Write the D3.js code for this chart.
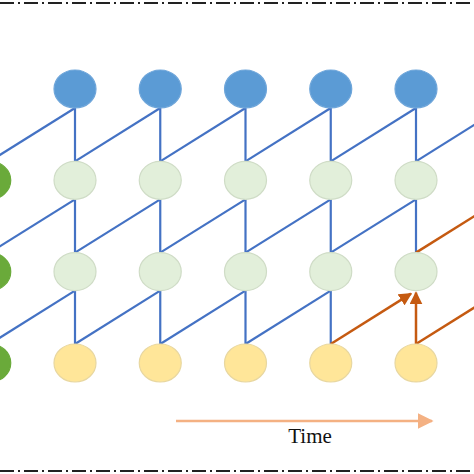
<!DOCTYPE html>
<html><head><meta charset="utf-8">
<script src="https://cdn.jsdelivr.net/npm/d3@7"></script>
<style>body{margin:0;background:#fff}svg{display:block}</style>
</head><body>
<script>
const columns = [-1, 0, 1, 2, 3, 4, 5];      // time steps (−1 and 5 partially off-screen)
const rows = [0, 1, 2, 3];                   // 0 = output, 1-2 = hidden, 3 = input
const rowNodeColumns = [[0,1,2,3,4],[ -1,0,1,2,3,4],[-1,0,1,2,3,4],[-1,0,1,2,3,4]];
const orangeVert = [[4,3]];                 // [col, lower row] vertical orange arrows
const orangeDiag = [[3,3,true],[4,3,false],[4,2,false]]; // [col, lower row, arrowhead]
const timeLabel = "Time";

const W=474,H=474;
const svg=d3.select("body").append("svg").attr("width",W).attr("height",H);
const x=d3.scaleLinear().domain([0,4]).range([75,416]);
const y=d3.scaleLinear().domain([0,3]).range([89,363]);
const rx=21, ry=19;
const defs=svg.append("defs");
function marker(id,color,size){
  defs.append("marker").attr("id",id).attr("viewBox","0 0 10 10").attr("refX",9).attr("refY",5)
   .attr("markerWidth",size).attr("markerHeight",size).attr("orient","auto").attr("markerUnits","userSpaceOnUse")
   .append("path").attr("d","M0,0L10,5L0,10Z").attr("fill",color);
}
marker("or","#c55a11",13); marker("tm","#f4b183",16);

// frame dash-dot lines
[3,471].forEach(yy=>svg.append("line").attr("x1",0).attr("x2",W).attr("y1",yy).attr("y2",yy)
  .attr("stroke","#222").attr("stroke-width",2).attr("stroke-dasharray","14,4,2,4"));

const isOrangeV=(c,r)=>orangeVert.some(o=>o[0]===c&&o[1]===r);
const isOrangeD=(c,r)=>orangeDiag.some(o=>o[0]===c&&o[1]===r);
const g=svg.append("g");
// connections between row r-1 (upper) and r (lower)
for(let r=1;r<=3;r++){
  columns.forEach(c=>{
    const top=y(r-1)+ry, bot=y(r)-ry;
    if(c>=0&&c<=4){
      const or=isOrangeV(c,r);
      const l=g.append("line").attr("x1",x(c)).attr("y1",bot+ry*2).attr("x2",x(c)).attr("y2",top)
        .attr("stroke",or?"#c55a11":"#4472c4").attr("stroke-width",or?2.5:2.2);
      if(or){l.attr("y2",top+2).attr("marker-end","url(#or)");} else {l.attr("y1",bot);}
    }
    if(c<=4){
      const or=isOrangeD(c,r);
      const d=orangeDiag.find(o=>o[0]===c&&o[1]===r);
      const x1=x(c),y1=bot,x2=x(c+1),y2=top;
      const l=g.append("line").attr("x1",x1).attr("y1",y1).attr("x2",x2).attr("y2",y2)
        .attr("stroke",or?"#c55a11":"#4472c4").attr("stroke-width",or?2.5:2.2);
      if(or&&d[2]){l.attr("x2",x2-5).attr("y2",y2+3).attr("marker-end","url(#or)");}
    }
  });
}
// nodes
const fills=["#5b9bd5","#e2efda","#e2efda","#ffe699"], strokes=["#6fa6da","#cfdcc6","#cfdcc6","#e8d7a0"];
rows.forEach(r=>{
  g.selectAll(null).data(rowNodeColumns[r]).join("ellipse")
   .attr("cx",c=>x(c)).attr("cy",y(r)).attr("rx",rx).attr("ry",ry)
   .attr("fill",c=>c<0?"#6aaa3a":fills[r]).attr("stroke",c=>c<0?"#6aaa3a":strokes[r]).attr("stroke-width",1.2);
});
// time arrow
svg.append("line").attr("x1",176).attr("x2",432).attr("y1",421).attr("y2",421)
  .attr("stroke","#f4b183").attr("stroke-width",2.5).attr("marker-end","url(#tm)");
svg.append("text").attr("x",310).attr("y",443).attr("text-anchor","middle")
  .attr("font-family","Liberation Serif, serif").attr("font-size",21).attr("fill","#111").text(timeLabel);
</script>
</body></html>
